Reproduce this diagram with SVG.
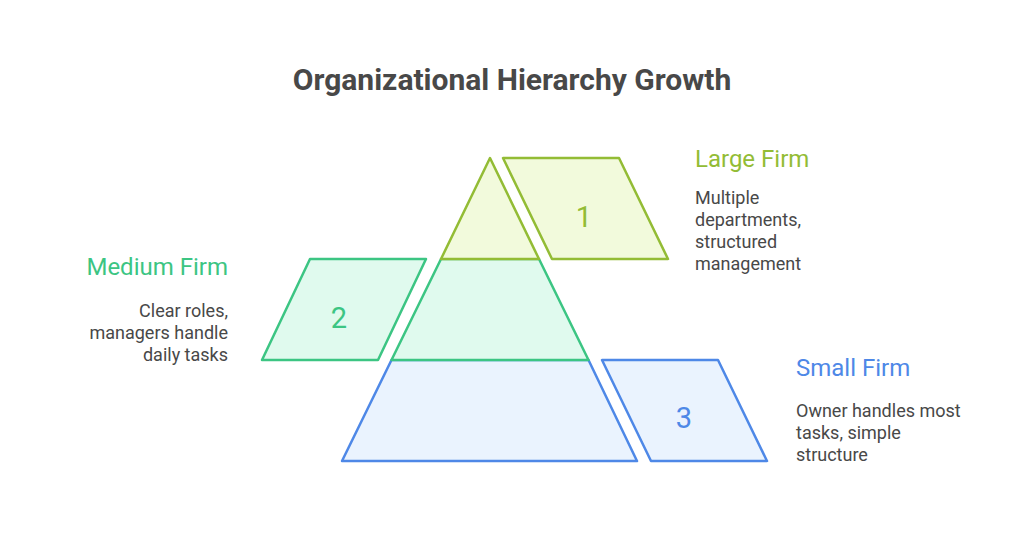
<svg xmlns="http://www.w3.org/2000/svg" width="1024" height="548" viewBox="0 0 1024 548">
<style>
.t{font-family:Roboto,"Liberation Sans",sans-serif}
.title{font-size:30px;font-weight:700;fill:#484848}
.head{font-size:24px}
.desc{font-size:18px;fill:#484848}
.num{font-size:29px;text-anchor:middle}
.s{stroke-width:2.5;stroke-linejoin:round}
.y{fill:#f2fadc;stroke:#93bc35}
.g{fill:#e0faee;stroke:#3cc583}
.b{fill:#eaf3fe;stroke:#4e88e7}
</style>
<rect width="1024" height="548" fill="#fff"/>
<text class="t title" x="512" y="90" text-anchor="middle">Organizational Hierarchy Growth</text>
<g id="small-firm">
<polygon class="s b" points="391.5,360 588.5,360 637,461 342,461"/>
<polygon class="s b" points="602,360 718,360 767,461 651,461"/>
<text class="t num" x="684" y="428" fill="#4e88e7">3</text>
<text class="t head" x="796" y="376" fill="#4e88e7">Small Firm</text>
<text class="t desc" x="796" y="417">Owner handles most</text>
<text class="t desc" x="796" y="439">tasks, simple</text>
<text class="t desc" x="796" y="461">structure</text>
</g>
<g id="medium-firm">
<polygon class="s g" points="441,259 539,259 588.5,360 391.5,360"/>
<polygon class="s g" points="310,259 426,259 378,360 262,360"/>
<text class="t num" x="339" y="328" fill="#3cc583">2</text>
<text class="t head" x="228" y="275" text-anchor="end" fill="#3cc583">Medium Firm</text>
<text class="t desc" x="228" y="317" text-anchor="end">Clear roles,</text>
<text class="t desc" x="228" y="339" text-anchor="end">managers handle</text>
<text class="t desc" x="228" y="361" text-anchor="end">daily tasks</text>
</g>
<g id="large-firm">
<polygon class="s y" points="490,158 539,259 441,259"/>
<polygon class="s y" points="503,158 619,158 668,259 552,259"/>
<text class="t num" x="584" y="227" fill="#93bc35">1</text>
<text class="t head" x="695" y="167" fill="#93bc35">Large Firm</text>
<text class="t desc" x="695" y="204">Multiple</text>
<text class="t desc" x="695" y="226">departments,</text>
<text class="t desc" x="695" y="248">structured</text>
<text class="t desc" x="695" y="270">management</text>
</g>
<g id="connectors"></g>
</svg>
